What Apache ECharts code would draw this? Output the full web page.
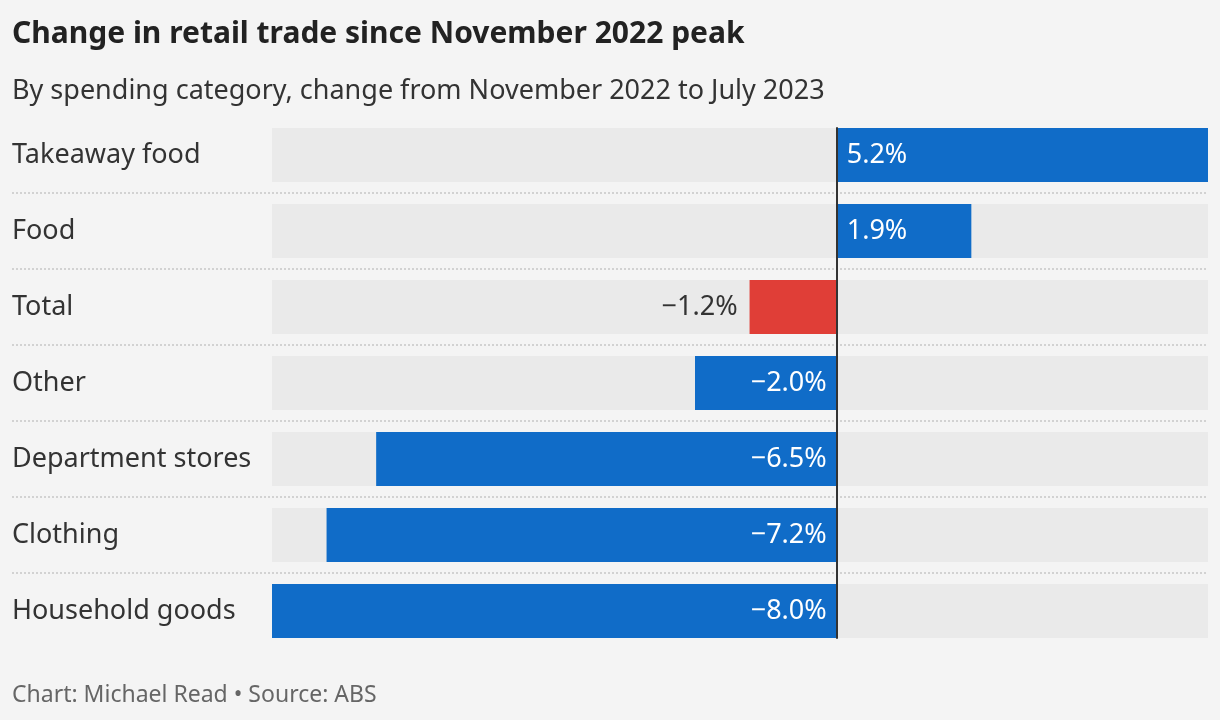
<!DOCTYPE html>
<html>
<head>
<meta charset="utf-8">
<script src="https://cdn.jsdelivr.net/npm/echarts@6/dist/echarts.min.js"></script>
<style>
html,body{margin:0;padding:0;background:#f4f4f4;}
#chart{width:1220px;height:720px;}
</style>
</head>
<body>
<div id="chart"></div>
<script>
const categories = ['Takeaway food', 'Food', 'Total', 'Other', 'Department stores', 'Clothing', 'Household goods'];
const values = [5.24, 1.9, -1.23, -2.0, -6.5, -7.2, -7.97];
const highlight = ['Total'];

const FONT = '"Noto Sans", "Open Sans", sans-serif';
const BLUE = '#106cc8';
const RED = '#e03e37';

const xMin = Math.min.apply(null, values);
const xMax = Math.max.apply(null, values);

function fmt(v) {
  const s = Math.abs(v).toFixed(1) + '%';
  return v < 0 ? '\u2212' + s : s;
}

const barData = values.map(function (v, i) {
  const isHi = highlight.indexOf(categories[i]) >= 0;
  const item = { value: v, itemStyle: { color: isHi ? RED : BLUE } };
  if (isHi) {
    item.label = { position: v < 0 ? 'left' : 'right', color: '#333', distance: 12 };
  } else {
    item.label = { position: v < 0 ? 'insideRight' : 'insideLeft', color: '#fff', distance: 10 };
  }
  return item;
});

const chart = echarts.init(document.getElementById('chart'), null, { renderer: 'canvas' });
chart.setOption({
  backgroundColor: '#f4f4f4',
  animation: false,
  title: [
    { text: 'Change in retail trade since November 2022 peak', left: 12, top: 16, padding: 0,
      textStyle: { fontFamily: FONT, fontSize: 30, fontWeight: 'bold', color: '#222', lineHeight: 36 } },
    { text: 'By spending category, change from November 2022 to July 2023', left: 12, top: 75, padding: 0,
      textStyle: { fontFamily: FONT, fontSize: 27, fontWeight: 'normal', color: '#333', lineHeight: 32 } },
    { text: 'Chart: Michael Read \u2022 Source: ABS', left: 12, top: 682, padding: 0,
      textStyle: { fontFamily: FONT, fontSize: 23, fontWeight: 'normal', color: '#666', lineHeight: 26 } }
  ],
  grid: [
    { left: 272, right: 12, top: 117, bottom: 71 },
    { left: 12, right: 12, top: 117, bottom: 71 },
    { left: 272, right: 12, top: 128, bottom: 82 }
  ],
  xAxis: [
    { gridIndex: 0, type: 'value', min: xMin, max: xMax, show: false },
    { gridIndex: 1, type: 'value', min: 0, max: 1, show: false },
    { gridIndex: 2, type: 'value', min: xMin, max: xMax, show: false }
  ],
  yAxis: [
    { gridIndex: 0, type: 'category', data: categories, inverse: true,
      axisLine: { show: false }, axisTick: { show: false }, splitLine: { show: false },
      axisLabel: { align: 'left', margin: 260, fontFamily: FONT, fontSize: 27, color: '#333' } },
    { gridIndex: 1, type: 'value', min: 0, max: categories.length, interval: 1,
      axisLine: { show: false }, axisTick: { show: false }, axisLabel: { show: false },
      splitLine: { show: true, showMinLine: false, showMaxLine: false,
        lineStyle: { type: [2, 2], width: 2, color: '#d2d2d2' } } },
    { gridIndex: 2, type: 'value', min: 0, max: 1, z: 10,
      axisLine: { show: true, onZero: true, lineStyle: { color: '#333', width: 2 } },
      axisTick: { show: false }, axisLabel: { show: false }, splitLine: { show: false } }
  ],
  series: [
    {
      type: 'bar', xAxisIndex: 0, yAxisIndex: 0,
      data: barData,
      barWidth: 54,
      showBackground: true,
      backgroundStyle: { color: '#eaeaea' },
      label: { show: true, fontFamily: FONT, fontSize: 27, formatter: function (p) { return fmt(p.value); } }
    }
  ]
});
</script>
</body>
</html>
